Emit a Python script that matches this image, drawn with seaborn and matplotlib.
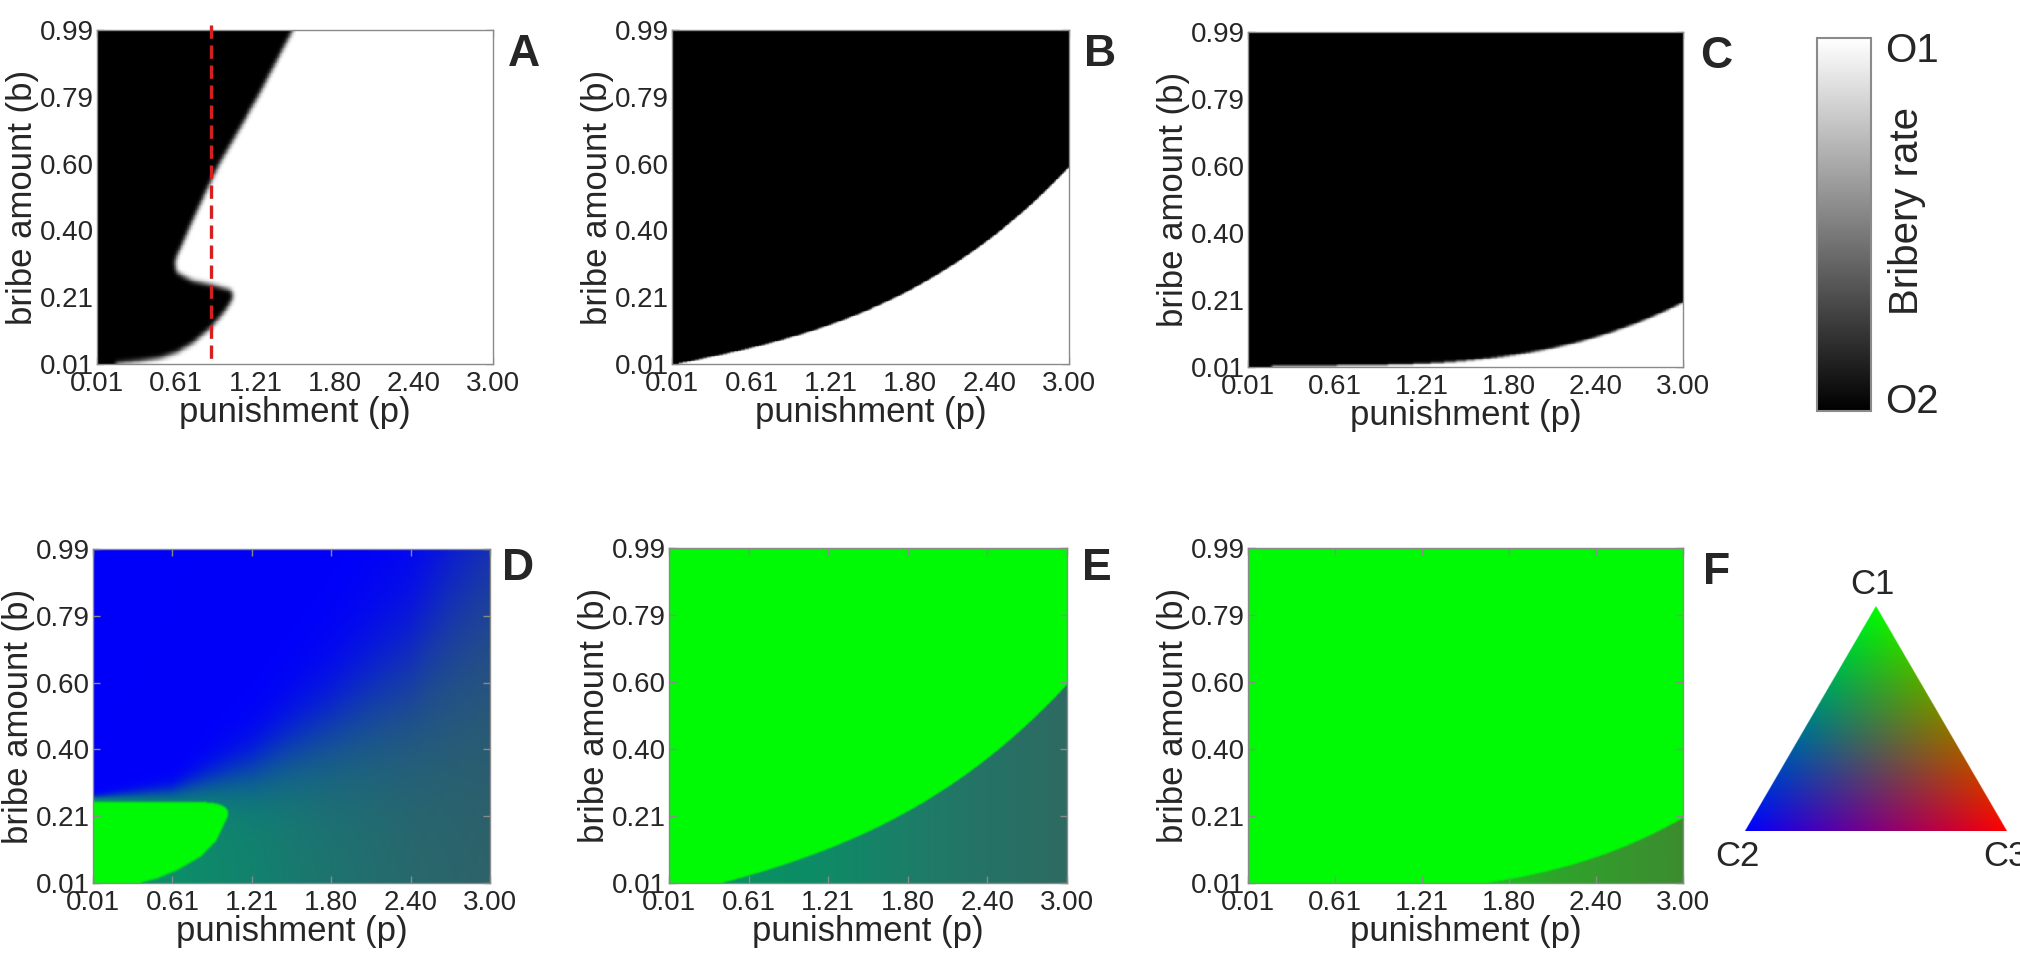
"""Bribery game phase diagrams: bribery rate (A-C) and strategy mix (D-F)."""

import numpy as np
import matplotlib
matplotlib.use("Agg")
import matplotlib.pyplot as plt
import seaborn as sns

# ── DATA ──────────────────────────────────────────────────────────────────────

P_TICKS = ["0.01", "0.61", "1.21", "1.80", "2.40", "3.00"]
B_TICKS = ["0.01", "0.21", "0.40", "0.60", "0.79", "0.99"]
P_MIN, P_MAX = 0.01, 3.00
B_MIN, B_MAX = 0.01, 0.99

# A: O2 | O1 border, punishment p at each bribe b (O1 to the right)
A_b = [0.01, 0.018, 0.027, 0.045, 0.073, 0.12, 0.167, 0.195, 0.212, 0.227,
       0.241, 0.255, 0.279, 0.307, 0.33, 0.353, 0.428, 0.521, 0.60, 0.79, 0.99]
A_p = [0.12, 0.33, 0.49, 0.62, 0.74, 0.88, 0.98, 1.025, 1.04, 1.02,
       0.90, 0.73, 0.61, 0.598, 0.615, 0.646, 0.73, 0.839, 0.94, 1.22, 1.49]
A_CUT = 0.87

# B, C: border bribe b at each punishment p (O1 below)
B_p = [0.01, 0.30, 0.61, 0.90, 1.21, 1.50, 1.80, 2.10, 2.40, 2.70, 3.00]
B_b = [0.01, 0.028, 0.054, 0.09, 0.125, 0.174, 0.228, 0.297, 0.37, 0.472, 0.59]
C_p = [0.01, 0.61, 1.21, 1.50, 1.80, 2.10, 2.40, 2.70, 3.00]
C_b = [0.01, 0.012, 0.02, 0.03, 0.042, 0.065, 0.097, 0.14, 0.20]

# D: blue (C2) -> mixed state border, its softness, mixed colour along p
D_mid_p = [0.01, 0.61, 1.21, 1.80, 2.40, 3.00]
D_mid_b = [0.262, 0.278, 0.35, 0.48, 0.64, 0.97]
D_width = [0.004, 0.015, 0.05, 0.09, 0.14, 0.24]
D_mix_rgb = [(10, 150, 100), (12, 142, 105), (18, 130, 110),
             (30, 116, 110), (40, 106, 106), (46, 100, 102)]
# D: green (C1) pocket, right border p at each b
D_green_b = [0.01, 0.023, 0.047, 0.087, 0.135, 0.185, 0.205, 0.222,
             0.234, 0.241, 0.245, 0.247]
D_green_p = [0.36, 0.49, 0.64, 0.82, 0.94, 1.00, 1.025, 1.025,
             1.0, 0.96, 0.91, 0.85]

# E, F: green above border b(p); mixed colour below it along p
E_p = [0.39, 0.61, 0.90, 1.21, 1.50, 1.80, 2.10, 2.40, 2.70, 3.00]
E_b = [0.01, 0.03, 0.065, 0.11, 0.16, 0.22, 0.29, 0.37, 0.47, 0.59]
E_low_p = [0.4, 1.2, 1.8, 2.4, 3.0]
E_low_rgb = [(5, 148, 96), (15, 138, 102), (28, 126, 104), (38, 114, 102), (46, 106, 98)]
F_p = [1.65, 1.90, 2.10, 2.40, 2.70, 3.00]
F_b = [0.01, 0.03, 0.047, 0.085, 0.135, 0.20]
F_low_p = [1.6, 2.1, 2.6, 3.0]
F_low_rgb = [(20, 200, 25), (45, 165, 42), (55, 150, 46), (60, 140, 46)]

GREEN = (0, 250, 5)
BLUE = (0, 0, 250)

# ternary key: C1 top, C2 bottom-left, C3 bottom-right
TRI_LABELS = ["C1", "C2", "C3"]
TRI_RGB = [(0, 255, 0), (0, 0, 255), (255, 0, 0)]

NX, NY = 600, 400
p_grid = P_MIN + (np.arange(NX) + 0.5) / NX * (P_MAX - P_MIN)
b_grid = B_MIN + (np.arange(NY) + 0.5) / NY * (B_MAX - B_MIN)
PP, BB = np.meshgrid(p_grid, b_grid)   # row 0 = lowest bribe


# ── HELPERS ───────────────────────────────────────────────────────────────────

def soften(z, sigma):
    """Small gaussian blur so region borders look like the rendered original."""
    r = int(3 * sigma) + 1
    k = np.exp(-0.5 * (np.arange(-r, r + 1) / sigma) ** 2)
    k /= k.sum()
    pad = ((r, r), (r, r)) + ((0, 0),) * (z.ndim - 2)
    z = np.pad(z, pad, mode="edge")
    z = np.apply_along_axis(np.convolve, 0, z, k, mode="valid")
    z = np.apply_along_axis(np.convolve, 1, z, k, mode="valid")
    return z


def smooth_border(xs, ys):
    """Smooth cubic through the read border points (0 before the first one)."""
    fit = np.polyfit(xs, ys, 3)
    yb = np.clip(np.polyval(fit, PP), 0, None)
    return np.where(PP < xs[0], 0.0, yb)


def colour_along_p(xs, cols):
    cols = np.asarray(cols, float)
    return np.stack([np.interp(PP, xs, cols[:, i]) for i in range(3)], -1)


def blend(base, mask, col):
    m = mask[..., None]
    return (1 - m) * base + m * np.asarray(col, float)


def style_axes(ax, heat=True):
    for s in ax.spines.values():
        s.set_visible(True)
        s.set_color("#8a8a8a")
        s.set_linewidth(1.0)
    if heat:
        ax.set_xticks(np.linspace(0, NX, 6))
        ax.set_yticks(np.linspace(NY, 0, 6))
    else:
        ax.set_xticks(np.linspace(P_MIN, P_MAX, 6))
        ax.set_yticks(np.linspace(B_MIN, B_MAX, 6))
    ax.set_xticklabels(P_TICKS, rotation=0)
    ax.set_yticklabels(B_TICKS, rotation=0)
    ax.tick_params(direction="in", length=5, width=1, color="#8a8a8a",
                   top=True, right=True, labelsize=20)
    ax.tick_params(axis="x", pad=5)
    ax.tick_params(axis="y", pad=2)
    ax.set_xlabel("punishment (p)", fontsize=25, labelpad=-1)
    ax.set_ylabel("bribe amount (b)", fontsize=25, labelpad=1)


# ── FIELDS ────────────────────────────────────────────────────────────────────

zA = soften((PP > np.interp(BB, A_b, A_p)).astype(float), 3.2)
zB = soften((BB < smooth_border(B_p, B_b)).astype(float), 1.0)
zC = soften((BB < smooth_border(C_p, C_b)).astype(float), 1.5)

mid = np.interp(PP, D_mid_p, D_mid_b)
wid = np.interp(PP, D_mid_p, D_width)
t = 1 / (1 + np.exp(np.clip(-(mid - BB) / wid, -60, 60)))
rgbD = blend(colour_along_p(D_mid_p, D_mix_rgb), 1 - t, BLUE)
gD = (BB <= D_green_b[-1]) & (PP <= np.interp(BB, D_green_b, D_green_p))
rgbD = blend(rgbD, soften(gD.astype(float), 1.2), GREEN)

gE = (BB > smooth_border(E_p, E_b)).astype(float)
rgbE = blend(colour_along_p(E_low_p, E_low_rgb), soften(gE, 0.9), GREEN)

gF = (BB > smooth_border(F_p, F_b)).astype(float)
rgbF = blend(colour_along_p(F_low_p, F_low_rgb), soften(gF, 0.9), GREEN)


# ── FIGURE ────────────────────────────────────────────────────────────────────

sns.set_theme(style="ticks")
plt.rcParams["font.family"] = ["Liberation Sans", "DejaVu Sans"]

W, H = 2020, 959
fig = plt.figure(figsize=(W / 100, H / 100), dpi=100)


def box(l, t_, r, b):
    return [l / W, 1 - b / H, (r - l) / W, (b - t_) / H]


axA = fig.add_axes(box(97, 30, 493, 364))
axB = fig.add_axes(box(672, 30, 1069, 364))
axC = fig.add_axes(box(1248, 32, 1683, 367))
axD = fig.add_axes(box(93, 549, 490, 883))
axE = fig.add_axes(box(669, 548, 1067, 883))
axF = fig.add_axes(box(1248, 548, 1683, 883))
cax = fig.add_axes(box(1817, 38, 1871, 411))
tax = fig.add_axes(box(1745, 606, 2007, 831))

kw = dict(cmap="gray", vmin=0, vmax=1, xticklabels=False, yticklabels=False,
          rasterized=True)
sns.heatmap(zA[::-1], ax=axA, cbar=False, **kw)
sns.heatmap(zB[::-1], ax=axB, cbar=False, **kw)
sns.heatmap(zC[::-1], ax=axC, cbar=True, cbar_ax=cax, **kw)
for ax in (axA, axB, axC):
    style_axes(ax, heat=True)

# red dashed cut through panel A
xc = (A_CUT - P_MIN) / (P_MAX - P_MIN) * NX
axA.plot([xc, xc], [-0.015 * NY, NY], color="#d42020", lw=2.4,
         ls=(0, (4, 2)), clip_on=False, zorder=5)

for ax, rgb in ((axD, rgbD), (axE, rgbE), (axF, rgbF)):
    ax.imshow(np.clip(rgb, 0, 255) / 255, origin="lower", aspect="auto",
              extent=(P_MIN, P_MAX, B_MIN, B_MAX), interpolation="bilinear")
    ax.set_xlim(P_MIN, P_MAX)
    ax.set_ylim(B_MIN, B_MAX)
    style_axes(ax, heat=False)

# colour bar for A-C
cbar = axC.collections[0].colorbar
cbar.set_ticks([0.035, 0.975])
cbar.set_ticklabels(["O2", "O1"])
cbar.ax.tick_params(labelsize=29, length=4, direction="in",
                    color="#999999", pad=10)
cbar.outline.set_edgecolor("#8a8a8a")
cbar.outline.set_linewidth(1.5)
fig.text(1907 / W, 1 - 211 / H, "Bribery rate", rotation=90,
         fontsize=29, ha="center", va="center")

# ternary colour key for D-F
n = 500
tx, ty = np.meshgrid(np.linspace(0, 1, n), np.linspace(0, 1, n))
w1 = ty
w3 = tx - ty / 2
w2 = 1 - tx - ty / 2
inside = (w1 >= 0) & (w2 >= 0) & (w3 >= 0)
cols = np.asarray(TRI_RGB, float) / 255
rgba = np.zeros((n, n, 4))
rgba[..., :3] = np.clip(w1[..., None] * cols[0] + w2[..., None] * cols[1]
                        + w3[..., None] * cols[2], 0, 1)
rgba[..., 3] = inside
tax.imshow(rgba, origin="lower", extent=(0, 1, 0, 1), aspect="auto",
           interpolation="bilinear")
tax.set_xlim(0, 1)
tax.set_ylim(0, 1)
tax.axis("off")
fig.text(1872 / W, 1 - 585 / H, TRI_LABELS[0], fontsize=25, ha="center", va="center")
fig.text(1715 / W, 1 - 856 / H, TRI_LABELS[1], fontsize=25, ha="left", va="center")
fig.text(1983 / W, 1 - 856 / H, TRI_LABELS[2], fontsize=25, ha="left", va="center")

# panel letters
for letter, x, y in (("A", 508, 54), ("B", 1084, 54), ("C", 1700, 56),
                     ("D", 502, 569), ("E", 1082, 569), ("F", 1703, 573)):
    fig.text(x / W, 1 - y / H, letter, fontsize=32, fontweight="bold",
             ha="left", va="center")

fig.savefig("out.png", dpi=100)
